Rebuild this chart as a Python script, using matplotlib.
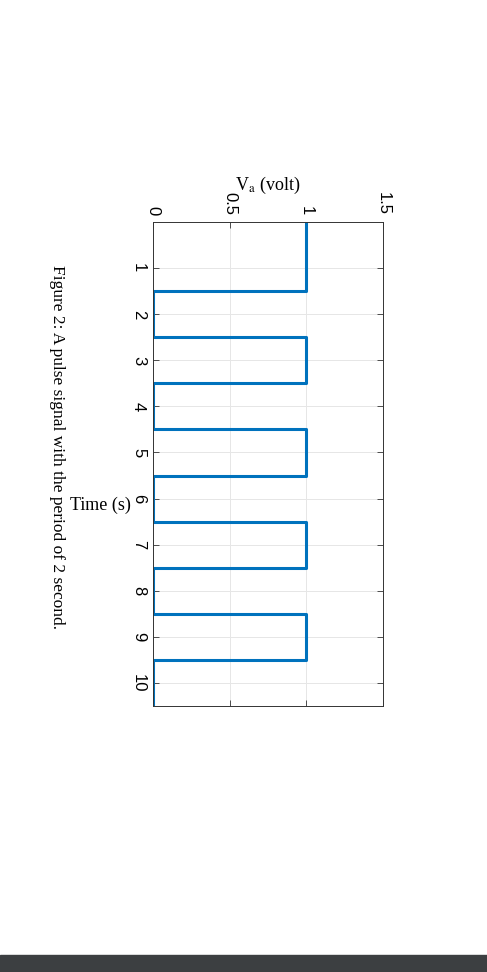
import matplotlib.pyplot as plt
import numpy as np

plt.rcParams['mathtext.fontset'] = 'stix'

# pulse signal data (period 2 s), level changes every second from t=1.5
edges = [0, 1.5, 2.5, 3.5, 4.5, 5.5, 6.5, 7.5, 8.5, 9.5, 10.5]
levels = [1, 0, 1, 0, 1, 0, 1, 0, 1, 0]
time_ticks = [1, 2, 3, 4, 5, 6, 7, 8, 9, 10]
volt_ticks = [0, 0.5, 1, 1.5]
volt_labels = ['0', '0.5', '1', '1.5']

SANS = ['Liberation Sans', 'DejaVu Sans']
SERIF = ['Liberation Serif', 'DejaVu Serif']

fig = plt.figure(figsize=(4.87, 9.72), dpi=100)
fig.set_facecolor('white')

# the page is rotated 90 deg clockwise: voltage runs left->right, time top->bottom
ax = fig.add_axes([153/487, 1 - 706/972, 230/487, 484/972])

t = np.repeat(edges, 2)[1:-1]
v = np.repeat(levels, 2)
ax.plot(v, t, color='#0072BD', lw=2.2)

ax.set_xlim(0, 1.5)
ax.set_ylim(10.5, 0)
ax.set_xticks(volt_ticks)
ax.set_yticks(time_ticks)
ax.xaxis.tick_top()
ax.set_xticklabels(volt_labels, rotation=-90, ha='center', va='bottom',
                   family=SANS, fontsize=12)
ax.set_yticklabels([str(x) for x in time_ticks], rotation=-90, va='center', ha='right',
                   family=SANS, fontsize=12)
ax.tick_params(direction='in', top=True, bottom=True, left=True, right=True,
               length=4, width=0.6, color='#333333', pad=5)
ax.grid(True, color='#e6e6e6', lw=0.7)
for s in ax.spines.values():
    s.set_linewidth(0.7)
    s.set_color('#333333')

fig.text(268/487, 1 - 185/972, r'V$_{\mathrm{a}}$ (volt)', ha='center', va='center',
         family=SERIF, fontsize=13)
fig.text(100/487, 1 - 505/972, 'Time (s)', ha='center', va='center',
         family=SERIF, fontsize=13)
fig.text(57/487, 1 - 447/972, 'Figure 2: A pulse signal with the period of 2 second.',
         rotation=-90, ha='center', va='center', family=SERIF, fontsize=12.5)

# dark bar at the bottom of the page screenshot
fig.add_artist(plt.Rectangle((0, 0), 1, 17/972, transform=fig.transFigure,
                             color='#3c3f41', zorder=10))

fig.savefig('out.png', dpi=100)
